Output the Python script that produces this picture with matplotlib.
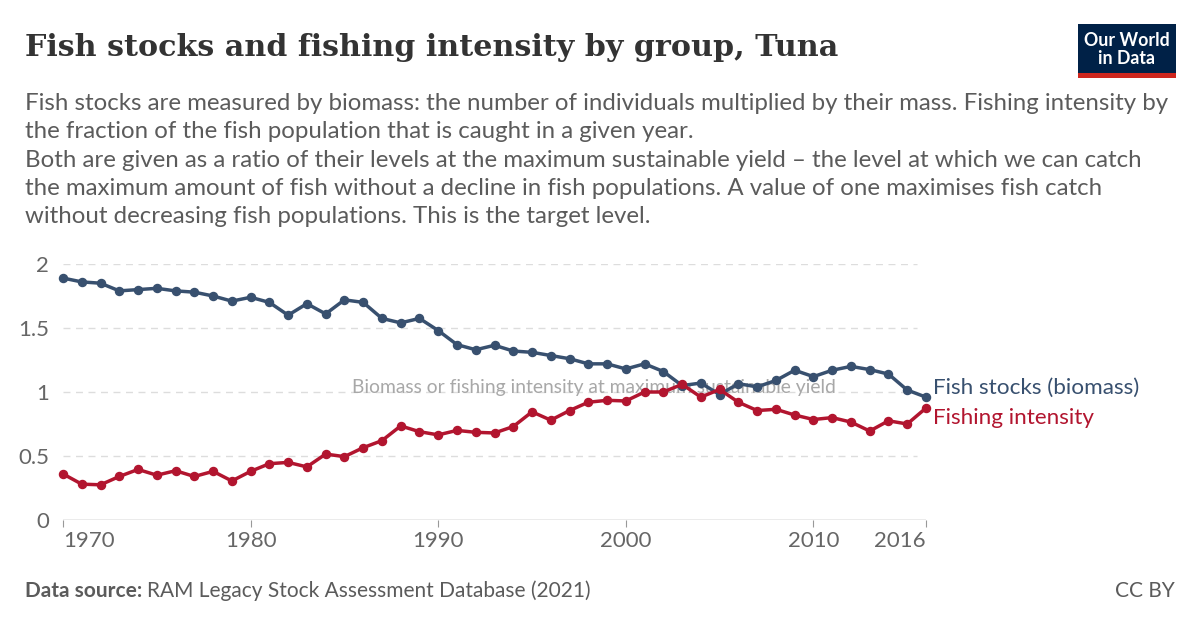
import matplotlib
matplotlib.use("Agg")
import matplotlib.pyplot as plt
from matplotlib.patches import Rectangle

# values
years = list(range(1970, 2017))
biomass = [1.89, 1.86, 1.85, 1.79, 1.80, 1.81, 1.79, 1.78, 1.75, 1.71,
           1.74, 1.70, 1.60, 1.69, 1.61, 1.72, 1.70, 1.575, 1.54, 1.575,
           1.48, 1.37, 1.33, 1.365, 1.32, 1.31, 1.285, 1.26, 1.22, 1.22,
           1.18, 1.22, 1.16, 1.05, 1.07, 0.98, 1.065, 1.04, 1.09, 1.17,
           1.12, 1.17, 1.20, 1.175, 1.14, 1.015, 0.96]
intensity = [0.36, 0.28, 0.275, 0.34, 0.395, 0.35, 0.385, 0.34, 0.38, 0.305,
             0.38, 0.44, 0.45, 0.415, 0.515, 0.495, 0.565, 0.62, 0.735, 0.69,
             0.665, 0.70, 0.685, 0.68, 0.73, 0.845, 0.78, 0.855, 0.92, 0.935,
             0.93, 1.0, 1.0, 1.06, 0.96, 1.02, 0.92, 0.855, 0.865, 0.82,
             0.785, 0.80, 0.765, 0.695, 0.775, 0.75, 0.875]
xticks = [1970, 1980, 1990, 2000, 2010, 2016]
yticks = [0, 0.5, 1, 1.5, 2]
ytick_labels = ["0", "0.5", "1", "1.5", "2"]

BLUE = "#38506f"
RED = "#b2152f"
GREY = "#5b5b5b"

W, H = 1200, 627
plt.rcParams["font.family"] = ["Lato", "DejaVu Sans"]

fig = plt.figure(figsize=(W / 100, H / 100), dpi=100)


def px(x, y):
    return x / W, 1 - y / H


ax = fig.add_axes([63 / W, 1 - 520 / H, (926 - 63) / W, (520 - 264) / H])
ax.set_xlim(1970, 2016)
ax.set_ylim(0, 2)

for v in yticks[1:]:
    ax.axhline(v, xmax=0.99, color="#dddddd", lw=1, ls=(0, (5, 4)), zorder=1)
ax.axhline(0, color="#999999", lw=1, zorder=2)

ax.text(1998.3, 0.995, "Biomass or fishing intensity at maximum sustainable yield",
        ha="center", va="baseline", color="#a8a8a8", fontsize=13.9, zorder=2)

ax.plot(years, biomass, color=BLUE, lw=2.5, marker="o", ms=5.8, zorder=4, clip_on=False)
ax.plot(years, intensity, color=RED, lw=2.5, marker="o", ms=5.8, zorder=4, clip_on=False)

ax.text(2016.35, 1.03, "Fish stocks (biomass)", color=BLUE, fontsize=16.2,
        va="center", ha="left")
ax.text(2016.35, 0.80, "Fishing intensity", color=RED, fontsize=16.2,
        va="center", ha="left")

for s in ax.spines.values():
    s.set_visible(False)
ax.set_xticks(xticks)
ax.set_xticklabels([str(x) for x in xticks])
ax.set_yticks(yticks)
ax.set_yticklabels(ytick_labels)
ax.tick_params(axis="x", length=5, color="#999999", labelcolor="#666666", labelsize=16, pad=3)
ax.tick_params(axis="y", length=0, labelcolor="#666666", labelsize=16, pad=10)
xl = ax.get_xticklabels()
xl[0].set_horizontalalignment("left")
xl[-1].set_horizontalalignment("right")

# title and subtitle
fig.text(*px(25, 56), "Fish stocks and fishing intensity by group, Tuna",
         family=["DejaVu Serif"], weight="bold", fontsize=21.7,
         color="#333333", va="baseline")
sub = [
    "Fish stocks are measured by biomass: the number of individuals multiplied by their mass. Fishing intensity by",
    "the fraction of the fish population that is caught in a given year.",
    "Both are given as a ratio of their levels at the maximum sustainable yield \u2013 the level at which we can catch",
    "the maximum amount of fish without a decline in fish populations. A value of one maximises fish catch",
    "without decreasing fish populations. This is the target level.",
]
for i, line in enumerate(sub):
    fig.text(*px(25, 110 + i * 28.3), line, fontsize=17.3, color=GREY, va="baseline")

# footer
t = fig.text(*px(25, 597), "Data source:", fontsize=15, color=GREY, weight="bold", va="baseline")
fig.canvas.draw()
bb = t.get_window_extent()
fig.text((bb.x1 + 5) / W, 1 - 597 / H, "RAM Legacy Stock Assessment Database (2021)",
         fontsize=15, color=GREY, va="baseline")
fig.text(*px(1175, 597), "CC BY", fontsize=15, color=GREY, ha="right", va="baseline")

# logo
fig.patches.append(Rectangle(px(1078, 73), 98 / W, 49 / H, transform=fig.transFigure,
                             facecolor="#002147", edgecolor="none"))
fig.patches.append(Rectangle(px(1078, 78), 98 / W, 5 / H, transform=fig.transFigure,
                             facecolor="#ce261e", edgecolor="none"))
fig.text(*px(1127, 41), "Our World", fontsize=12.8, color="white", ha="center", va="center", weight="bold")
fig.text(*px(1127, 58), "in Data", fontsize=12.8, color="white", ha="center", va="center", weight="bold")

fig.savefig("out.png", dpi=100)
